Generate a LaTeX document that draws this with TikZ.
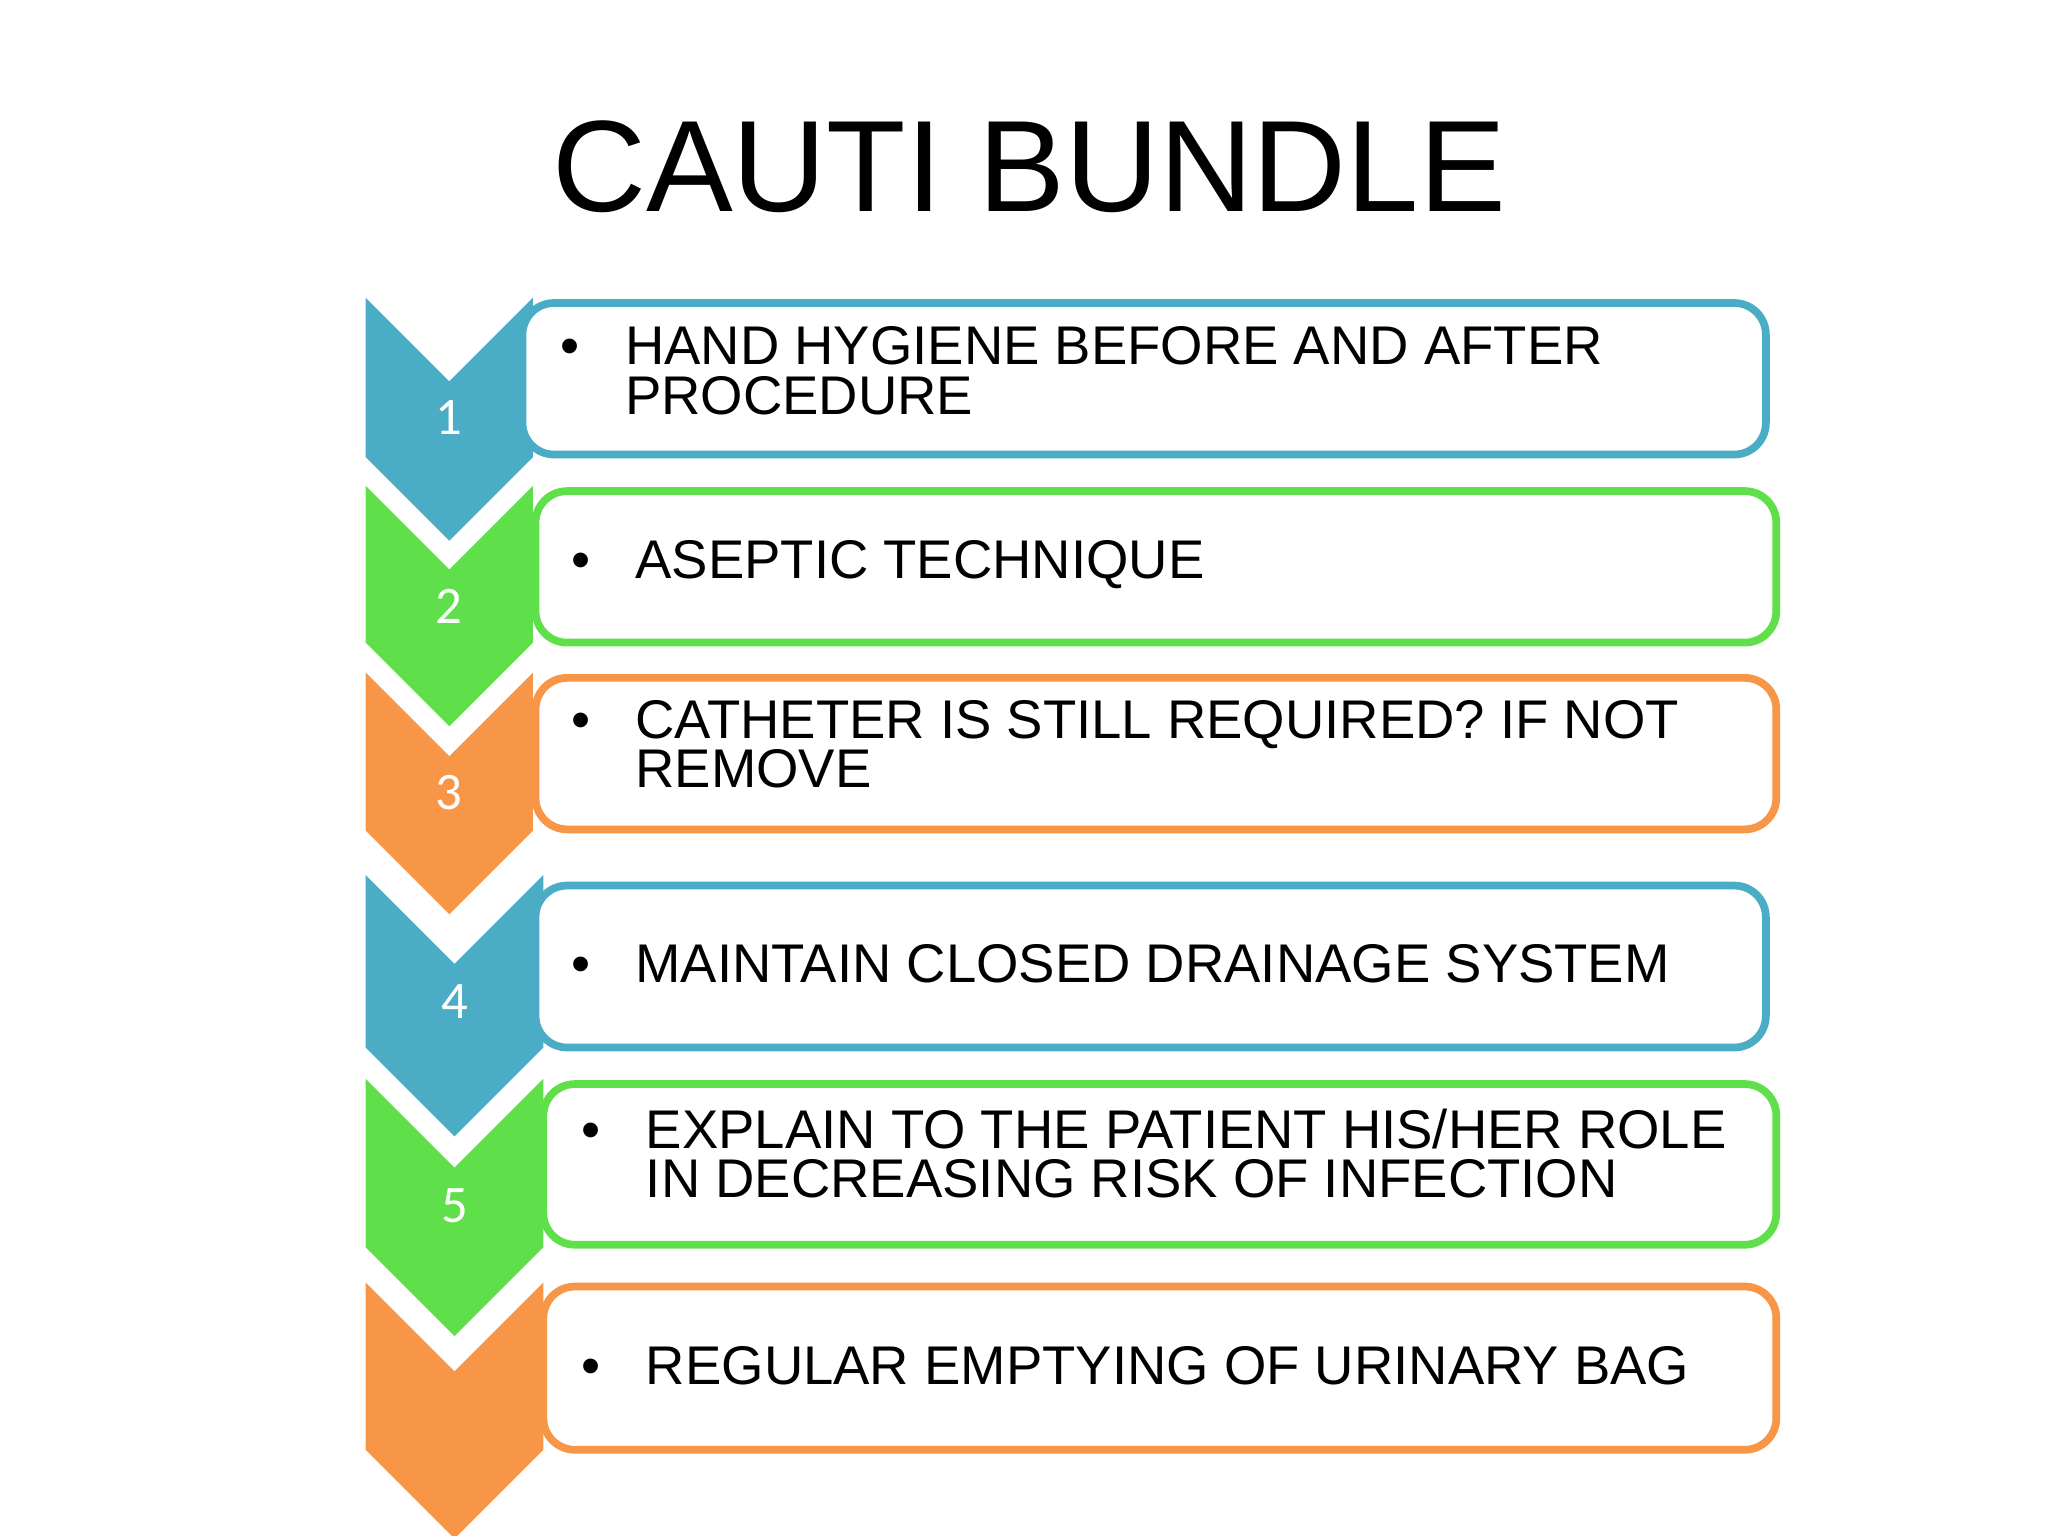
\documentclass[tikz,border=0pt]{standalone}
\usepackage{fontspec}
\setmainfont{Liberation Sans}
\newfontfamily\numfont{Carlito}
\definecolor{cblue}{HTML}{4BACC6}
\definecolor{cgreen}{HTML}{5FE04A}
\definecolor{corange}{HTML}{F79646}
\begin{document}
\begin{tikzpicture}[x=0.013061cm,y=-0.013061cm,
  bx/.style={draw=#1,line width=2.2pt,rounded corners=9pt,fill=white},
  num/.style={text=white,font=\numfont\fontsize{15}{15}\selectfont},
  itm/.style={anchor=west,align=left,font=\fontsize{15.5}{17}\selectfont}]
\useasboundingbox (0,0) rectangle (1568,1176);
\node[font=\fontsize{37}{40}\selectfont] (title) at (788,128) {CAUTI BUNDLE};
% chevrons: top y, side bottom y, right x, color
\foreach \t/\b/\r/\c [count=\i] in {228/350/408/cblue,372/492/408/cgreen,515/636/408/corange,670/802/416/cblue,826/955/416/cgreen,982/1110/416/corange}{
  \pgfmathsetmacro\m{(280+\r)/2}
  \pgfmathsetmacro\h{(\r-280)/2}
  \fill[\c] (280,\t) -- (\m,\t+\h) -- (\r,\t) -- (\r,\b) -- (\m,\b+\h) -- (280,\b) -- cycle;
}
\draw[bx=cblue] (400,232) rectangle (1352,348);
\draw[bx=cgreen] (410,376) rectangle (1360,492);
\draw[bx=corange] (410,519) rectangle (1360,635);
\draw[bx=cblue] (410,678) rectangle (1352,802);
\draw[bx=cgreen] (416,830) rectangle (1360,953);
\draw[bx=corange] (416,985) rectangle (1360,1110);
\node[num] (n1) at (344,320) {1};
\node[num] (n2) at (344,464) {2};
\node[num] (n3) at (344,607) {3};
\node[num] (n4) at (348,767) {4};
\node[num] (n5) at (348,923) {5};
\node[itm] (t1) at (420,289) {•\hspace{0.45cm}\begin{tabular}[t]{@{}l@{}}HAND HYGIENE BEFORE AND AFTER\\[-3pt]PROCEDURE\end{tabular}};
\node[itm] (t2) at (428,432) {•\hspace{0.45cm}ASEPTIC TECHNIQUE};
\node[itm] (t3) at (428,575) {•\hspace{0.45cm}\begin{tabular}[t]{@{}l@{}}CATHETER IS STILL REQUIRED? IF NOT\\[-3pt]REMOVE\end{tabular}};
\node[itm] (t4) at (428,738) {•\hspace{0.45cm}MAINTAIN CLOSED DRAINAGE SYSTEM};
\node[itm] (t5) at (436,889) {•\hspace{0.45cm}\begin{tabular}[t]{@{}l@{}}EXPLAIN TO THE PATIENT HIS/HER ROLE\\[-3pt]IN DECREASING RISK OF INFECTION\end{tabular}};
\node[itm] (t6) at (436,1046) {•\hspace{0.45cm}REGULAR EMPTYING OF URINARY BAG};
\end{tikzpicture}
\end{document}
